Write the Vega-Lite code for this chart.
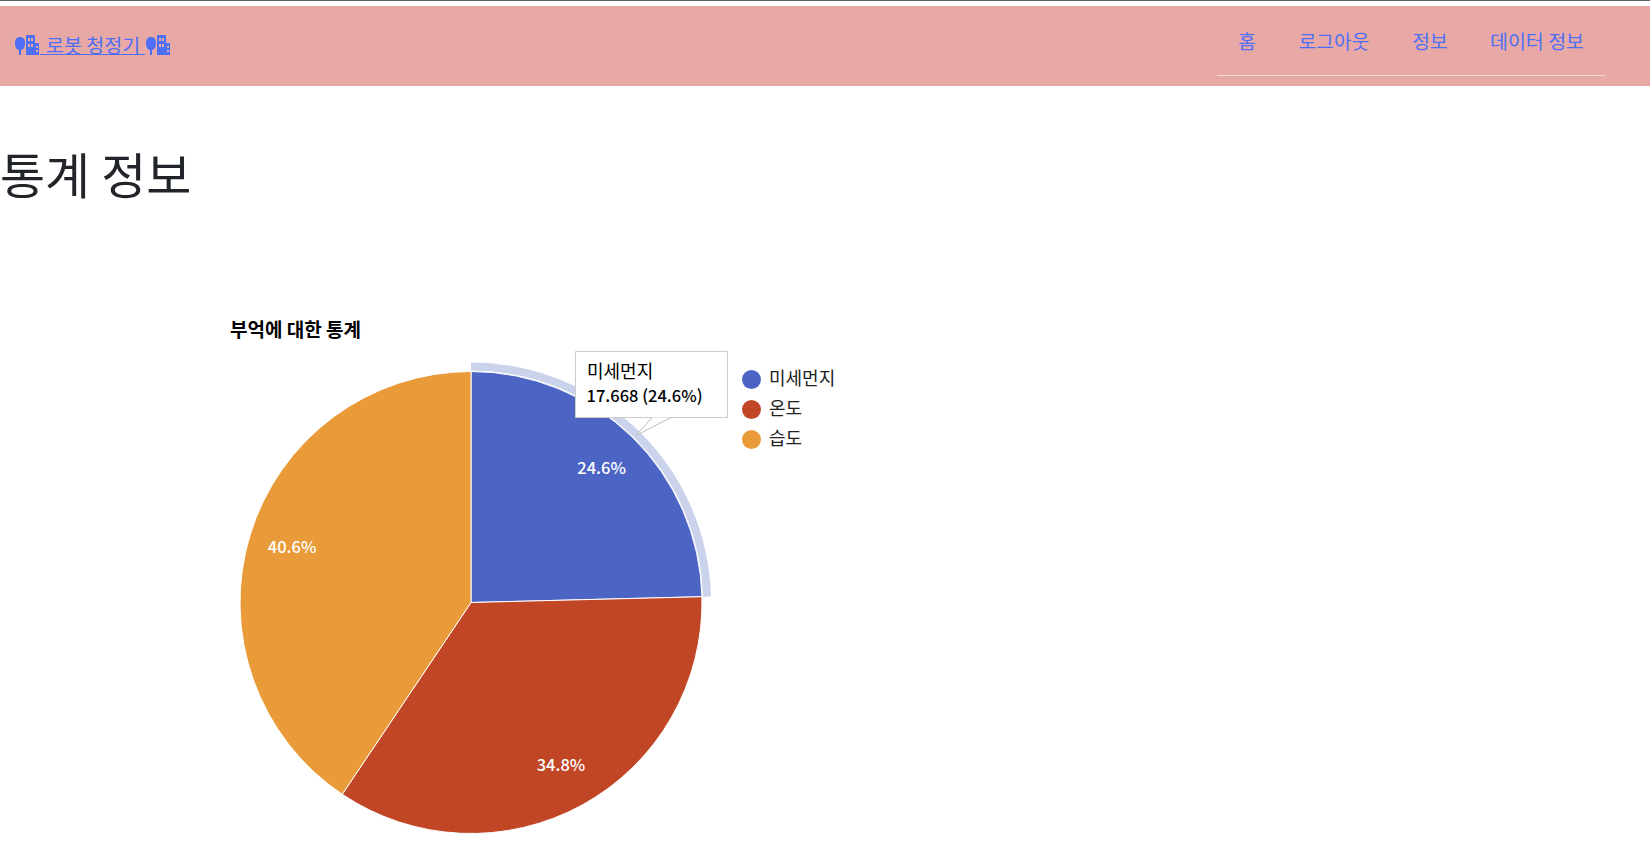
{
  "$schema": "https://vega.github.io/schema/vega-lite/v6.json",
  "width": 1650,
  "height": 857,
  "autosize": {"type": "none"},
  "padding": 0,
  "background": "#ffffff",
  "config": {
    "view": {"stroke": null},
    "axis": {"disable": true},
    "font": "Noto Sans CJK KR",
    "text": {"font": "Noto Sans CJK KR"}
  },
  "data": {
    "values": [
      {"name": "미세먼지", "rank": 1, "value": 17.668, "share": "24.6%"},
      {"name": "온도", "rank": 2, "value": 25.0, "share": "34.8%"},
      {"name": "습도", "rank": 3, "value": 29.15, "share": "40.6%"}
    ]
  },
  "layer": [
    {
      "data": {"values": [{"part": "header"}]},
      "mark": {"type": "rect", "color": "#E8A9A6"},
      "encoding": {
        "x": {"datum": 0, "type": "quantitative", "scale": {"domain": [0, 1650], "nice": false}},
        "x2": {"datum": 1650},
        "y": {"datum": 6, "type": "quantitative", "scale": {"domain": [0, 857], "nice": false, "reverse": true}},
        "y2": {"datum": 86}
      }
    },
    {
      "data": {"values": [{"part": "top line"}]},
      "mark": {"type": "rule", "color": "#5f5f5f", "strokeWidth": 1},
      "encoding": {
        "x": {"datum": 0, "type": "quantitative"},
        "x2": {"datum": 1650},
        "y": {"datum": 0.5, "type": "quantitative"}
      }
    },
    {
      "data": {"values": [{"part": "nav line"}]},
      "mark": {"type": "rule", "color": "#F1DCDB", "strokeWidth": 1},
      "encoding": {
        "x": {"datum": 1217, "type": "quantitative"},
        "x2": {"datum": 1605},
        "y": {"datum": 75.5, "type": "quantitative"}
      }
    },
    {
      "data": {"values": [{"part": "brand line"}]},
      "mark": {"type": "rule", "color": "#4D6EF5", "strokeWidth": 1},
      "encoding": {
        "x": {"datum": 40, "type": "quantitative"},
        "x2": {"datum": 145},
        "y": {"datum": 54.5, "type": "quantitative"}
      }
    },
    {
      "data": {"values": [{"part": "tree icon"}]},
      "mark": {"type": "point", "filled": true, "opacity": 1, "size": 4, "color": "#4D6EF5", "shape": "M-1 12 L1 12 L1 7 C4 7 5 3 5 0 C5 -4 3 -6 0 -6 C-3 -6 -5 -4 -5 0 C-5 3 -4 7 -1 7 Z"},
      "encoding": {
        "x": {"datum": 20, "type": "quantitative"},
        "y": {"datum": 43, "type": "quantitative"}
      }
    },
    {
      "data": {"values": [{"part": "building icon"}]},
      "mark": {"type": "point", "filled": true, "opacity": 1, "size": 4, "color": "#4D6EF5", "shape": "M0 1 Q0 0 1 0 L8 0 Q9 0 9 1 L9 8 L12 8 Q13 8 13 9 L13 20 L0 20 Z M2 3 L2 6 L4 6 L4 3 Z M5 3 L5 6 L7 6 L7 3 Z M2 9 L2 12 L4 12 L4 9 Z M5 9 L5 12 L7 12 L7 9 Z M10 11 L10 13 L12 13 L12 11 Z M10 15 L10 17 L12 17 L12 15 Z"},
      "encoding": {
        "x": {"datum": 26, "type": "quantitative"},
        "y": {"datum": 35, "type": "quantitative"}
      }
    },
    {
      "data": {"values": [{"part": "tree icon"}]},
      "mark": {"type": "point", "filled": true, "opacity": 1, "size": 4, "color": "#4D6EF5", "shape": "M-1 12 L1 12 L1 7 C4 7 5 3 5 0 C5 -4 3 -6 0 -6 C-3 -6 -5 -4 -5 0 C-5 3 -4 7 -1 7 Z"},
      "encoding": {
        "x": {"datum": 151, "type": "quantitative"},
        "y": {"datum": 43, "type": "quantitative"}
      }
    },
    {
      "data": {"values": [{"part": "building icon"}]},
      "mark": {"type": "point", "filled": true, "opacity": 1, "size": 4, "color": "#4D6EF5", "shape": "M0 1 Q0 0 1 0 L8 0 Q9 0 9 1 L9 8 L12 8 Q13 8 13 9 L13 20 L0 20 Z M2 3 L2 6 L4 6 L4 3 Z M5 3 L5 6 L7 6 L7 3 Z M2 9 L2 12 L4 12 L4 9 Z M5 9 L5 12 L7 12 L7 9 Z M10 11 L10 13 L12 13 L12 11 Z M10 15 L10 17 L12 17 L12 15 Z"},
      "encoding": {
        "x": {"datum": 157, "type": "quantitative"},
        "y": {"datum": 35, "type": "quantitative"}
      }
    },
    {
      "data": {"values": [{"label": "로봇 청정기"}]},
      "mark": {"type": "text", "align": "left", "baseline": "alphabetic", "fontSize": 19.5, "color": "#4D6EF5"},
      "encoding": {
        "x": {"datum": 46, "type": "quantitative"},
        "y": {"datum": 53, "type": "quantitative"},
        "text": {"field": "label"}
      }
    },
    {
      "data": {"values": [{"label": "홈"}]},
      "mark": {"type": "text", "align": "center", "baseline": "alphabetic", "fontSize": 19.2, "color": "#4D6EF5"},
      "encoding": {
        "x": {"datum": 1247, "type": "quantitative"},
        "y": {"datum": 49, "type": "quantitative"},
        "text": {"field": "label"}
      }
    },
    {
      "data": {"values": [{"label": "로그아웃"}]},
      "mark": {"type": "text", "align": "center", "baseline": "alphabetic", "fontSize": 19.2, "color": "#4D6EF5"},
      "encoding": {
        "x": {"datum": 1334, "type": "quantitative"},
        "y": {"datum": 49, "type": "quantitative"},
        "text": {"field": "label"}
      }
    },
    {
      "data": {"values": [{"label": "정보"}]},
      "mark": {"type": "text", "align": "center", "baseline": "alphabetic", "fontSize": 19.2, "color": "#4D6EF5"},
      "encoding": {
        "x": {"datum": 1430, "type": "quantitative"},
        "y": {"datum": 49, "type": "quantitative"},
        "text": {"field": "label"}
      }
    },
    {
      "data": {"values": [{"label": "데이터 정보"}]},
      "mark": {"type": "text", "align": "center", "baseline": "alphabetic", "fontSize": 19.5, "color": "#4D6EF5"},
      "encoding": {
        "x": {"datum": 1537, "type": "quantitative"},
        "y": {"datum": 49, "type": "quantitative"},
        "text": {"field": "label"}
      }
    },
    {
      "data": {"values": [{"label": "통계 정보"}]},
      "mark": {"type": "text", "align": "left", "baseline": "alphabetic", "fontSize": 49, "color": "#212529"},
      "encoding": {
        "x": {"datum": 0, "type": "quantitative"},
        "y": {"datum": 194, "type": "quantitative"},
        "text": {"field": "label"}
      }
    },
    {
      "data": {"values": [{"label": "부억에 대한 통계"}]},
      "mark": {"type": "text", "align": "left", "baseline": "alphabetic", "fontSize": 19, "fontWeight": "bold", "color": "#000000"},
      "encoding": {
        "x": {"datum": 230, "type": "quantitative"},
        "y": {"datum": 337, "type": "quantitative"},
        "text": {"field": "label"}
      }
    },
    {
      "mark": {"type": "arc", "radius": 240, "radius2": 232},
      "encoding": {
        "x": {"datum": 471, "type": "quantitative"},
        "y": {"datum": 602.5, "type": "quantitative"},
        "theta": {"field": "value", "type": "quantitative", "stack": true},
        "order": {"field": "rank"},
        "color": {
          "field": "name",
          "scale": {"domain": ["미세먼지", "온도", "습도"], "range": ["#CBD3EC", "transparent", "transparent"]},
          "legend": null
        }
      }
    },
    {
      "mark": {"type": "arc", "radius": 231, "stroke": "#ffffff", "strokeWidth": 1},
      "encoding": {
        "x": {"datum": 471, "type": "quantitative"},
        "y": {"datum": 602.5, "type": "quantitative"},
        "theta": {"field": "value", "type": "quantitative", "stack": true},
        "order": {"field": "rank"},
        "fill": {
          "field": "name",
          "scale": {"domain": ["미세먼지", "온도", "습도"], "range": ["#4C65C4", "#C14626", "#E89B38"]},
          "legend": {
            "title": null,
            "orient": "none",
            "legendX": 742,
            "legendY": 370,
            "symbolType": "circle",
            "symbolSize": 361,
            "symbolStrokeWidth": 0,
            "labelFontSize": 18,
            "labelColor": "#222222",
            "labelFont": "Noto Sans CJK KR",
            "rowPadding": 11,
            "labelOffset": 8
          }
        }
      }
    },
    {
      "mark": {"type": "text", "radius": 187, "fontSize": 16.5, "fontWeight": 500, "color": "#ffffff"},
      "encoding": {
        "x": {"datum": 471, "type": "quantitative"},
        "y": {"datum": 602.5, "type": "quantitative"},
        "theta": {"field": "value", "type": "quantitative", "stack": true},
        "order": {"field": "rank"},
        "text": {"field": "share"}
      }
    },
    {
      "data": {"values": [{"part": "tooltip"}]},
      "mark": {"type": "rect", "fill": "#ffffff", "stroke": "#CCCCCC", "strokeWidth": 1},
      "encoding": {
        "x": {"datum": 575.5, "type": "quantitative"},
        "x2": {"datum": 727.5},
        "y": {"datum": 351.5, "type": "quantitative"},
        "y2": {"datum": 417.5}
      }
    },
    {
      "data": {"values": [{"part": "tooltip tail"}]},
      "mark": {"type": "point", "filled": true, "opacity": 1, "size": 4, "color": "#ffffff", "shape": "M0 0 L19 0 L-16 18 Z"},
      "encoding": {
        "x": {"datum": 652, "type": "quantitative"},
        "y": {"datum": 417.5, "type": "quantitative"}
      }
    },
    {
      "data": {"values": [{"part": "tooltip tail"}]},
      "mark": {"type": "point", "filled": false, "opacity": 1, "size": 4, "color": "#BBBBBB", "strokeWidth": 1, "shape": "M0 0 L-16 18 L19 0"},
      "encoding": {
        "x": {"datum": 652, "type": "quantitative"},
        "y": {"datum": 417.5, "type": "quantitative"}
      }
    },
    {
      "data": {"values": [{"label": "미세먼지"}]},
      "mark": {"type": "text", "align": "left", "baseline": "alphabetic", "fontSize": 18, "color": "#000000"},
      "encoding": {
        "x": {"datum": 587, "type": "quantitative"},
        "y": {"datum": 378, "type": "quantitative"},
        "text": {"field": "label"}
      }
    },
    {
      "data": {"values": [{"label": "17.668 (24.6%)"}]},
      "mark": {"type": "text", "align": "left", "baseline": "alphabetic", "fontSize": 16.5, "fontWeight": 500, "color": "#000000"},
      "encoding": {
        "x": {"datum": 586.5, "type": "quantitative"},
        "y": {"datum": 402, "type": "quantitative"},
        "text": {"field": "label"}
      }
    }
  ],
  "resolve": {"scale": {"color": "independent", "fill": "independent"}}
}
